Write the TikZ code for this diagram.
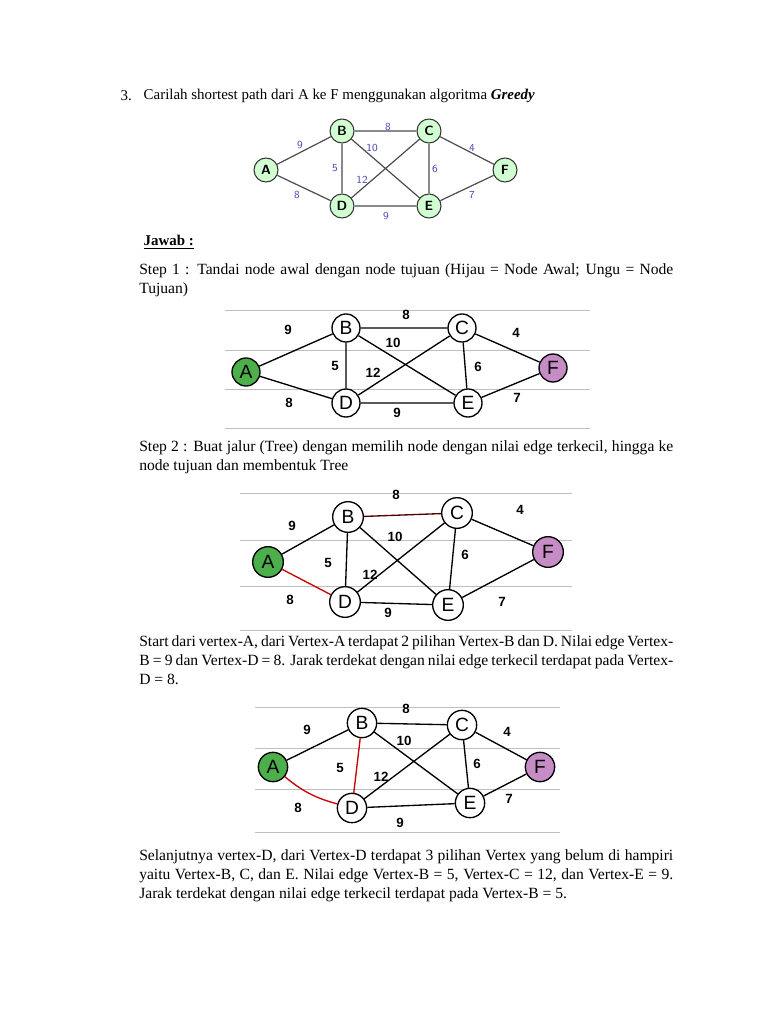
\documentclass[tikz,border=0pt]{standalone}
\usepackage{fontspec}
\setmainfont{Liberation Serif}
\newfontfamily\hand{Liberation Sans}
\begin{document}
\begin{tikzpicture}[x=0.75pt,y=-0.75pt,
  body/.style={anchor=north west,inner sep=0pt,text width=400.5pt,align=justify,font=\fontsize{11.7}{14.3}\selectfont},
  pn/.style={circle,draw=black!80,thick,fill=green!18,minimum size=18pt,inner sep=0pt,font=\sffamily\bfseries},
  pe/.style={draw=black!70,line width=0.9pt},
  pl/.style={font=\sffamily\footnotesize,text=blue!60!black!70!white},
  hn/.style={circle,draw=black,line width=1pt,fill=white,minimum size=#1,inner sep=0pt,font=\hand\Large},
  he/.style={draw=black,line width=1pt},
  re/.style={draw=red!80!black,line width=1pt},
  hl/.style={font=\hand\normalsize\bfseries,inner sep=1pt},
  rule/.style={draw=black!25,line width=0.6pt}]
\useasboundingbox (0,0) rectangle (768,1024);
% title
\node[anchor=west,font=\fontsize{11.2}{13}\selectfont] (num) at (116,96) {3.};
\node[anchor=west,font=\fontsize{11.2}{13}\selectfont] (title) at (139,96) {Carilah shortest path dari A ke F menggunakan algoritma \textbf{\textit{Greedy}}};
% graph 1
\node[pn] (A1) at (266,170) {A};
\node[pn] (B1) at (342,131) {B};
\node[pn] (C1) at (429,131) {C};
\node[pn] (D1) at (342,206) {D};
\node[pn] (E1) at (429,206) {E};
\node[pn] (F1) at (505,170) {F};
\draw[pe] (A1)--(B1) (A1)--(D1) (B1)--(C1) (B1)--(D1) (B1)--(E1) (C1)--(D1) (C1)--(E1) (C1)--(F1) (D1)--(E1) (E1)--(F1);
\node[pl] (l1a) at (300,145) {9};
\node[pl] (l1b) at (388,127) {8};
\node[pl] (l1c) at (372,148) {10};
\node[pl] (l1d) at (335,168) {5};
\node[pl] (l1e) at (435,169) {6};
\node[pl] (l1f) at (472,148) {4};
\node[pl] (l1g) at (362,180) {12};
\node[pl] (l1h) at (297,195) {8};
\node[pl] (l1i) at (472,195) {7};
\node[pl] (l1j) at (386,216) {9};
% texts
\node[anchor=west,font=\fontsize{11.2}{13}\selectfont] (jawab) at (139,242) {\textbf{\underline{Jawab :}}};
\node[body] (s1) at (139,263) {Step 1 : Tandai node awal dengan node tujuan (Hijau = Node Awal; Ungu = Node Tujuan)};
% graph 2
\foreach \y [count=\i] in {310,350,389,428} \draw[rule] (225,\y) coordinate (r2a\i) -- (590,\y) coordinate (r2b\i);
\node[hn=21pt,fill=green!55!black!70!white] (A2) at (246,372) {A};
\node[hn=21pt] (B2) at (346,328) {B};
\node[hn=21pt] (C2) at (462,328) {C};
\node[hn=21pt] (D2) at (346,403) {D};
\node[hn=21pt] (E2) at (468,403) {E};
\node[hn=21pt,fill=violet!45] (F2) at (553,368) {F};
\draw[he] (A2)--(B2) (A2)--(D2) (B2)--(C2) (B2)--(D2) (B2)--(E2) (C2)--(D2) (C2)--(E2) (C2)--(F2) (D2)--(E2) (E2)--(F2);
\node[hl] (l2a) at (288,330) {9};
\node[hl] (l2b) at (406,315) {8};
\node[hl] (l2c) at (393,343) {10};
\node[hl] (l2d) at (516,333) {4};
\node[hl] (l2e) at (335,366) {5};
\node[hl] (l2f) at (373,373) {12};
\node[hl] (l2g) at (478,367) {6};
\node[hl] (l2h) at (289,403) {8};
\node[hl] (l2i) at (397,413) {9};
\node[hl] (l2j) at (517,398) {7};
\node[body] (s2) at (139,440) {Step 2 : Buat jalur (Tree) dengan memilih node dengan nilai edge terkecil, hingga ke node tujuan dan membentuk Tree};
% graph 3
\foreach \y [count=\i] in {493,540,586,630} \draw[rule] (240,\y) coordinate (r3a\i) -- (572,\y) coordinate (r3b\i);
\node[hn=23pt,fill=green!55!black!70!white] (A3) at (268,562) {A};
\node[hn=23pt] (B3) at (348,517) {B};
\node[hn=23pt] (C3) at (457,513) {C};
\node[hn=23pt] (D3) at (345,602) {D};
\node[hn=23pt] (E3) at (448,605) {E};
\node[hn=23pt,fill=violet!45] (F3) at (548,552) {F};
\draw[he] (A3)--(B3) (B3)--(D3) (B3)--(E3) (C3)--(D3) (C3)--(E3) (C3)--(F3) (D3)--(E3) (E3)--(F3);
\draw[he,draw=black!70!red] (B3)--(C3);
\draw[re] (A3)--(D3);
\node[hl] (l3a) at (292,526) {9};
\node[hl] (l3b) at (396,495) {8};
\node[hl] (l3c) at (395,537) {10};
\node[hl] (l3d) at (520,510) {4};
\node[hl] (l3e) at (328,563) {5};
\node[hl] (l3f) at (370,575) {12};
\node[hl] (l3g) at (465,555) {6};
\node[hl] (l3h) at (290,600) {8};
\node[hl] (l3i) at (388,613) {9};
\node[hl] (l3j) at (502,602) {7};
\node[body] (s3) at (139,635) {Start dari vertex-A, dari Vertex-A terdapat 2 pilihan Vertex-B dan D. Nilai edge Vertex-B = 9 dan Vertex-D = 8. Jarak terdekat dengan nilai edge terkecil terdapat pada Vertex-D = 8.};
% graph 4
\foreach \y [count=\i] in {707,748,789,832} \draw[rule] (255,\y) coordinate (r4a\i) -- (560,\y) coordinate (r4b\i);
\node[hn=22pt,fill=green!55!black!70!white] (A4) at (273,767) {A};
\node[hn=22pt] (B4) at (362,723) {B};
\node[hn=22pt] (C4) at (462,725) {C};
\node[hn=22pt] (D4) at (352,808) {D};
\node[hn=22pt] (E4) at (470,803) {E};
\node[hn=22pt,fill=violet!45] (F4) at (540,767) {F};
\draw[he] (A4)--(B4) (B4)--(C4) (B4)--(E4) (C4)--(D4) (C4)--(E4) (C4)--(F4) (D4)--(E4) (E4)--(F4);
\draw[re] (B4)--(D4);
\draw[re] (A4) to[bend right=12] (D4);
\node[hl] (l4a) at (307,730) {9};
\node[hl] (l4b) at (406,709) {8};
\node[hl] (l4c) at (404,741) {10};
\node[hl] (l4d) at (507,732) {4};
\node[hl] (l4e) at (340,768) {5};
\node[hl] (l4f) at (381,777) {12};
\node[hl] (l4g) at (477,764) {6};
\node[hl] (l4h) at (298,808) {8};
\node[hl] (l4i) at (400,823) {9};
\node[hl] (l4j) at (509,799) {7};
\node[body] (s4) at (139,849) {Selanjutnya vertex-D, dari Vertex-D terdapat 3 pilihan Vertex yang belum di hampiri yaitu Vertex-B, C, dan E. Nilai edge Vertex-B = 5, Vertex-C = 12, dan Vertex-E = 9. Jarak terdekat dengan nilai edge terkecil terdapat pada Vertex-B = 5.};
\end{tikzpicture}
\end{document}
